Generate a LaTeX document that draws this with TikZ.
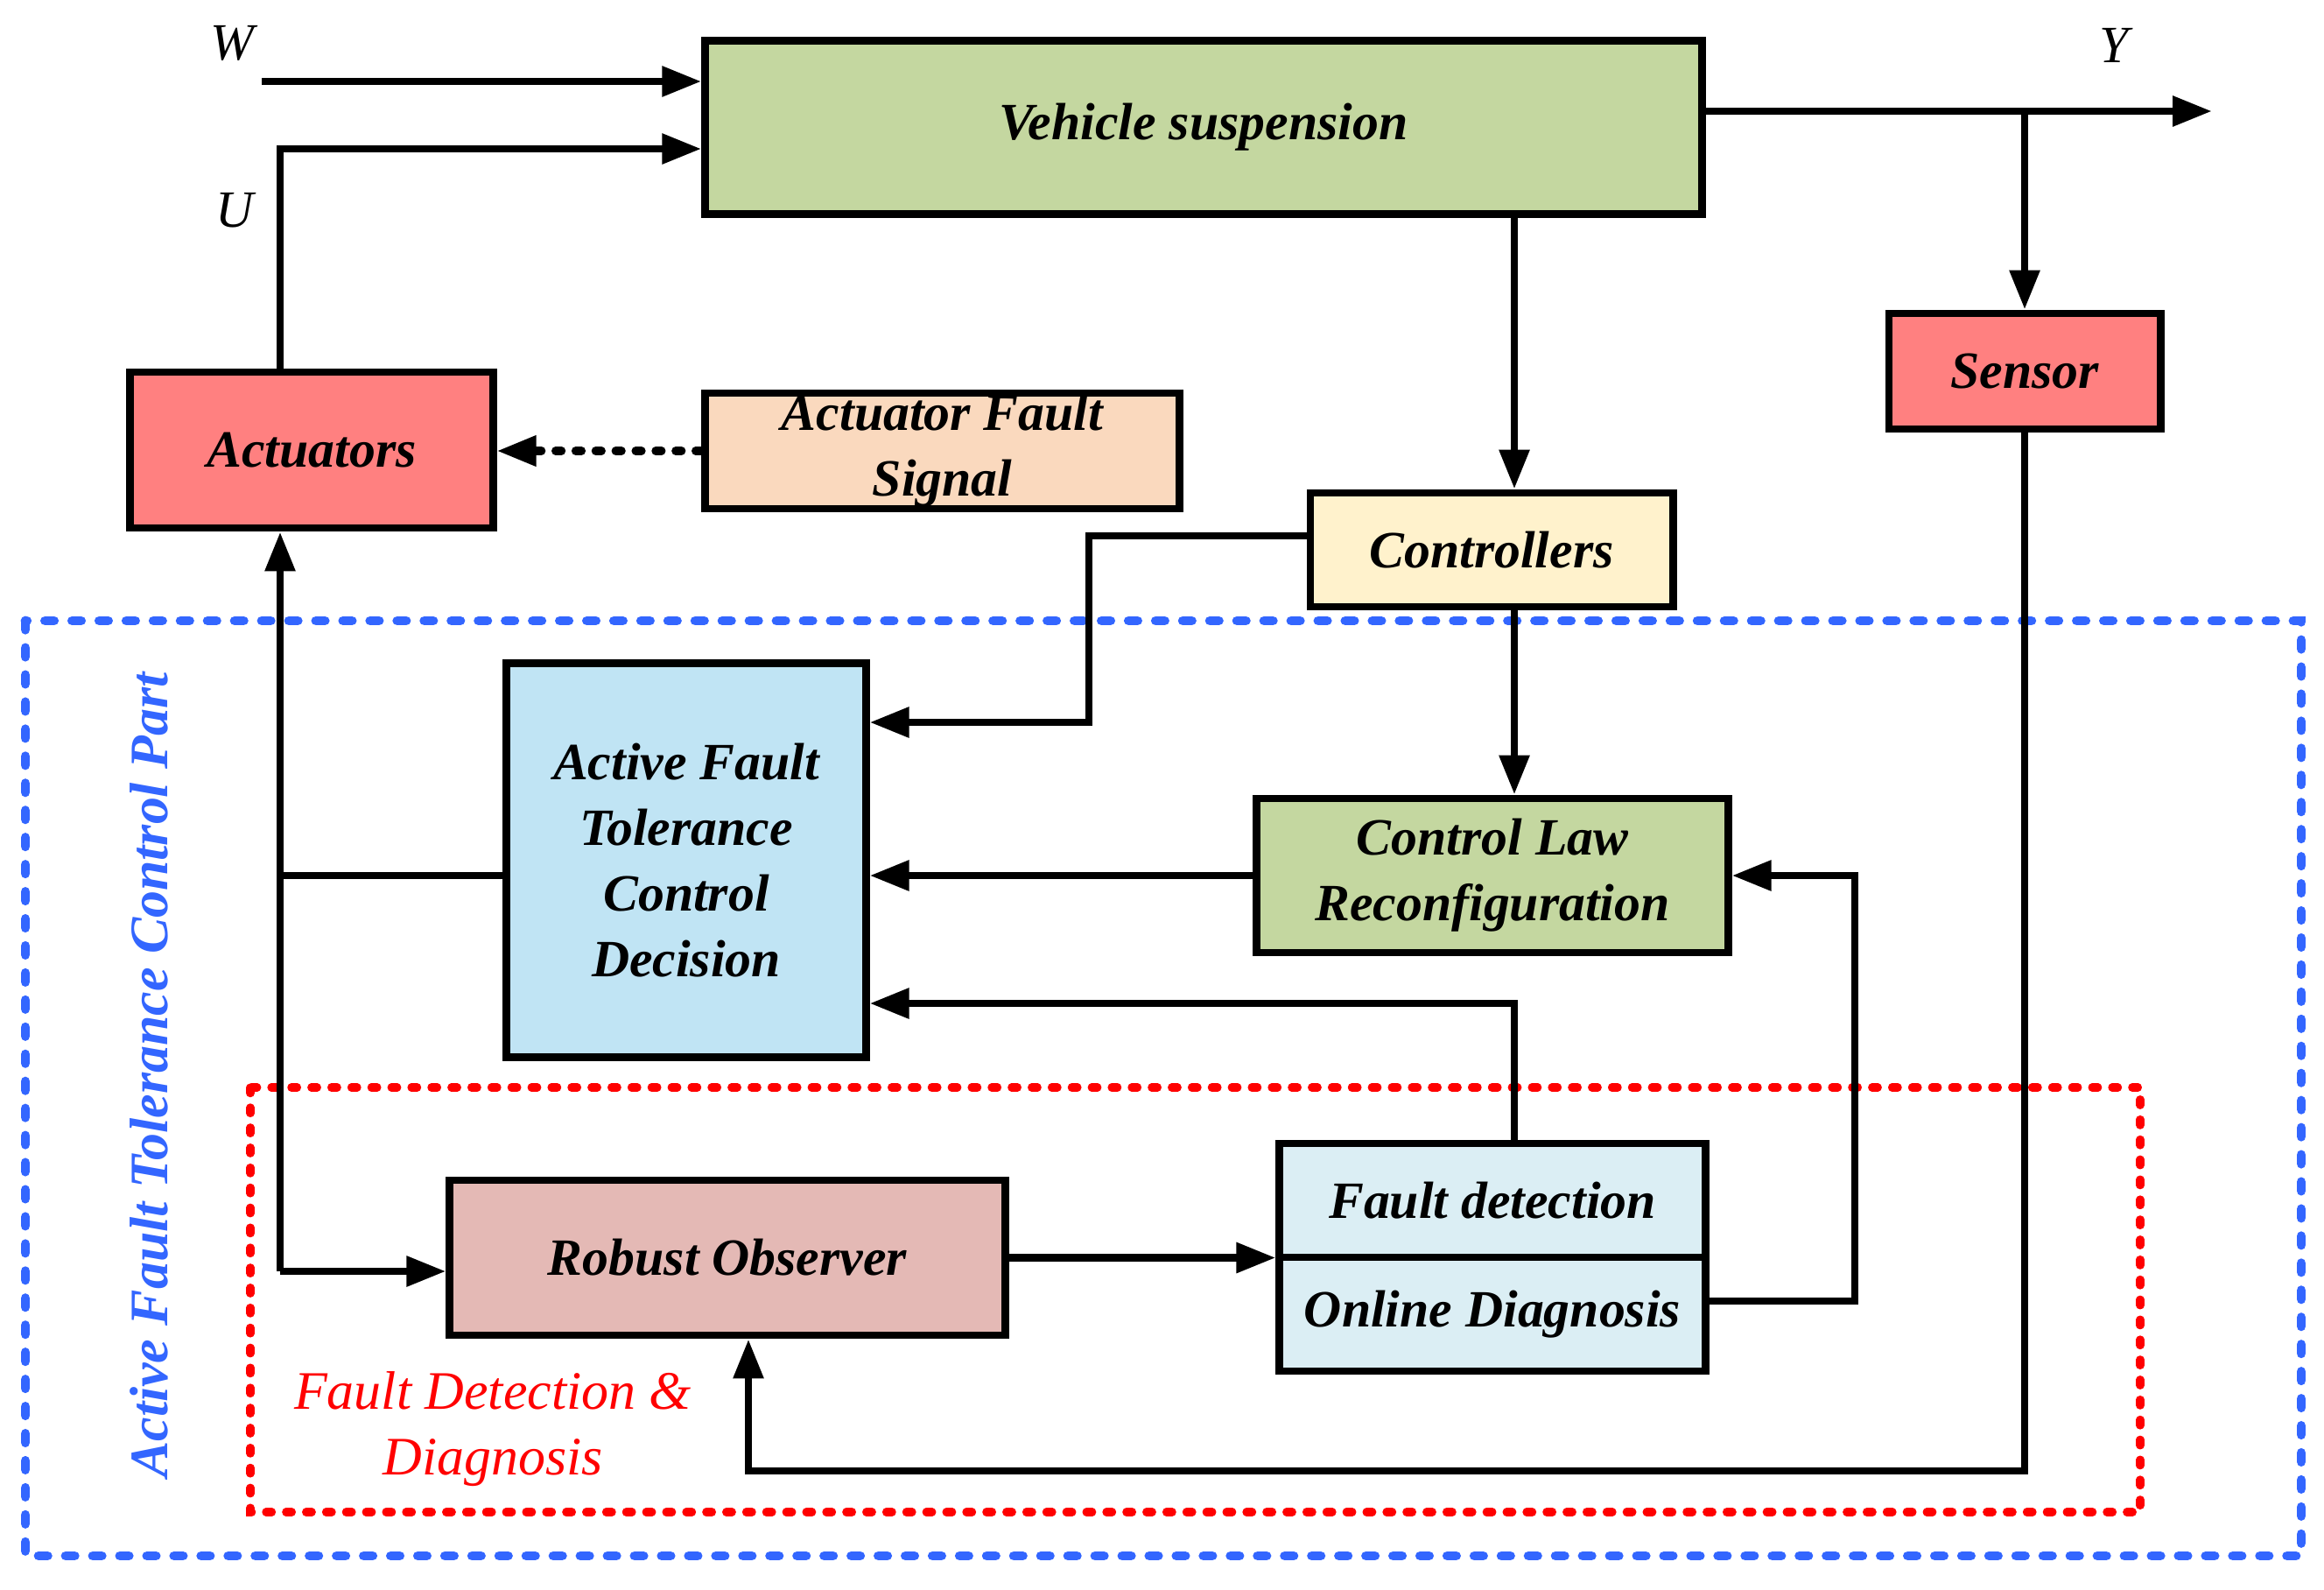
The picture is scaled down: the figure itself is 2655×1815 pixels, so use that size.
\documentclass[tikz,border=0pt]{standalone}
\usepackage{fontspec}
\setmainfont{Liberation Serif}
\usetikzlibrary{arrows.meta,calc}
\definecolor{cgreen}{RGB}{196,215,160}
\definecolor{cred}{RGB}{255,128,128}
\definecolor{cpeach}{RGB}{250,217,190}
\definecolor{cyellow}{RGB}{255,242,204}
\definecolor{cblue}{RGB}{192,228,244}
\definecolor{crose}{RGB}{228,185,181}
\definecolor{cpale}{RGB}{219,238,244}
\definecolor{fblue}{RGB}{51,102,255}
\definecolor{fred}{RGB}{255,0,0}
\tikzset{
  blk/.style={draw=black, line width=2.5pt, inner sep=0pt, align=center,
    font=\fontsize{17}{21.3}\selectfont\bfseries\itshape},
  arr/.style={line width=2.5pt, -{Triangle[length=12.8pt,width=9.4pt]}},
  ln/.style={line width=2.5pt},
  lbl/.style={font=\fontsize{17}{21}\selectfont\itshape},
}
\begin{document}
\begin{tikzpicture}[x=0.01cm,y=-0.01cm]
\useasboundingbox (0,0) rectangle (2655,1815);
% frames
\draw[fblue, line width=3.1pt, dash pattern=on 2.9pt off 5.9pt, line cap=round] (29,709) rectangle (2629,1777);
\draw[fred, line width=2.6pt, dash pattern=on 1.9pt off 4.6pt, line cap=round] (286,1242) rectangle (2445,1727);
% blocks
\node[blk, fill=cgreen, minimum width=11.38cm, minimum height=1.98cm] (veh) at (1375,145.5) {Vehicle suspension};
\node[blk, fill=cred, minimum width=4.14cm, minimum height=1.78cm] (act) at (356,514) {Actuators};
\node[blk, fill=cpeach, minimum width=5.41cm, minimum height=1.32cm] (afs) at (1076.5,515) {Actuator Fault\\Signal};
\node[blk, fill=cyellow, minimum width=4.14cm, minimum height=1.30cm] (ctrl) at (1704,628) {Controllers};
\node[blk, fill=cred, minimum width=3.10cm, minimum height=1.32cm] (sen) at (2313,424) {Sensor};
\node[blk, fill=cblue, minimum width=4.10cm, minimum height=4.49cm] (aftc) at (784,982.5) {Active Fault\\Tolerance\\Control\\Decision};
\node[blk, fill=cgreen, minimum width=5.38cm, minimum height=1.76cm] (cl) at (1705,1000) {Control Law\\Reconfiguration};
\node[blk, fill=crose, minimum width=6.34cm, minimum height=1.77cm] (ro) at (831,1436.5) {Robust Observer};
\node[blk, fill=cpale, minimum width=4.86cm, minimum height=1.30cm] (fd) at (1705,1371) {Fault detection};
\node[blk, fill=cpale, minimum width=4.86cm, minimum height=1.30cm] (od) at (1705,1501) {Online Diagnosis};
% labels
\node[lbl] (wl) at (265,49) {W};
\node[lbl] (ul) at (268,240) {U};
\node[lbl] (yl) at (2415,52) {Y};
\node[fblue, rotate=90, font=\fontsize{17.6}{21}\selectfont\bfseries\itshape] (bl) at (170,1228) {Active Fault Tolerance Control Part};
\node[fred, align=center, font=\fontsize{17.6}{21.3}\selectfont\itshape] (rl) at (563,1632) {Fault Detection \&\\Diagnosis};
% coordinates
\coordinate (ws) at (299,93);
\coordinate (ux) at (320,170);
\coordinate (ye) at (2527,127);
\coordinate (yb) at (2313,127);
\coordinate (cx) at (1730,0);
\coordinate (c1) at (1244,612);
\coordinate (c2) at (1244,825);
\coordinate (jx) at (320,1000);
\coordinate (jb) at (320,1452);
\coordinate (f1) at (1730,1146);
\coordinate (d1) at (2119,1486);
\coordinate (d2) at (2119,1000);
\coordinate (s1) at (2313,1680);
\coordinate (s2) at (855,1680);
% connectors
\draw[arr] (ws) -- (ws -| veh.west);
\draw[arr] (act.north -| ux) -- (ux) -- (ux -| veh.west);
\draw[arr] (veh.east |- ye) -- (ye);
\draw[arr] (yb) -- (sen.north);
\draw[arr] (veh.south -| cx) -- (ctrl.north -| cx);
\draw[line width=2.7pt, dash pattern=on 1.9pt off 4.6pt, line cap=round, -{Triangle[length=12.8pt,width=9.4pt]}] (afs.west) -- (act.east |- afs.west);
\draw[arr] (ctrl.west |- c1) -- (c1) -- (c2) -- (c2 -| aftc.east);
\draw[arr] (ctrl.south -| cx) -- (cl.north -| cx);
\draw[arr] (cl.west) -- (cl.west -| aftc.east);
\draw[arr] (fd.north -| cx) -- (f1) -- (f1 -| aftc.east);
\draw[ln] (jx -| aftc.west) -- (jx);
\draw[arr] (jb) -- (act.south -| jb);
\draw[arr] (jb) -- (jb -| ro.west);
\draw[arr] (ro.east) -- (ro.east -| fd.west);
\draw[arr] (od.east |- d1) -- (d1) -- (d2) -- (cl.east);
\draw[arr] (sen.south) -- (s1) -- (s2) -- (ro.south -| s2);
\end{tikzpicture}
\end{document}
